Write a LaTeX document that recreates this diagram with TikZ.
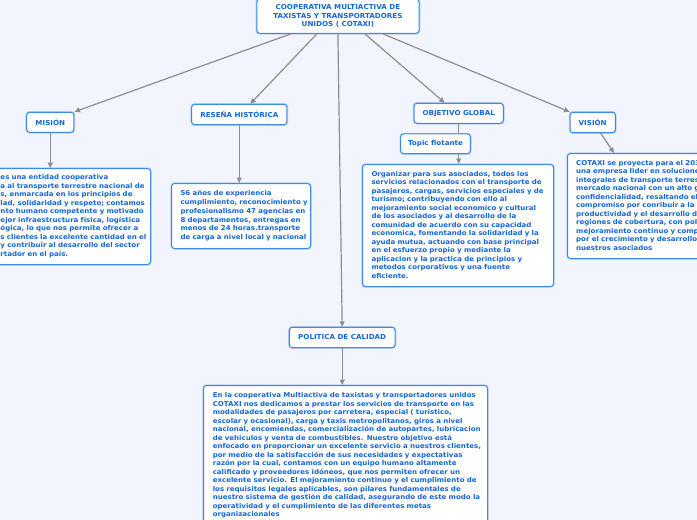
\documentclass[tikz,border=0pt]{standalone}
\usepackage{fontspec}
\setmainfont{DejaVu Sans}
\newfontfamily\vfont[FakeStretch=1.05]{DejaVu Sans}
\usetikzlibrary{arrows.meta}
\definecolor{bg}{HTML}{F2F5FD}
\definecolor{bord}{HTML}{3E8BE6}
\definecolor{halo}{HTML}{B3D0F4}
\definecolor{txt}{HTML}{1667D6}
\definecolor{connc}{HTML}{8E8E8E}
\newcommand{\tlines}[1]{\makebox[0pt][l]{\begin{tabular}{@{}l@{}}#1\end{tabular}}}
\hfuzz=100pt
\begin{document}
\begin{tikzpicture}[x=1pt,y=-1pt,
 box/.style={draw=bord, line width=1pt, fill=white, rounded corners=3pt,
   preaction={draw=halo, line width=2.4pt}, text=txt},
 topicbox/.style={box, inner sep=0pt, align=center, font=\vfont\fontsize{6.8}{8.7}\selectfont\bfseries},
 textbox/.style={box, anchor=north west, inner ysep=0pt, align=left, font=\vfont\fontsize{6.7}{8.5}\selectfont\bfseries},
 conn/.style={draw=connc, line width=1.2pt, -{Triangle[length=5.5pt,width=5pt]}},
 link/.style={draw=connc, line width=1.2pt}
]
\useasboundingbox (0,0) rectangle (697,520);
\fill[bg] (0,0) rectangle (697,520);
\clip (0,0) rectangle (697,520);

% topics
\node[topicbox, minimum width=162.3pt, minimum height=34.3pt] (main) at (337.9,16.2)
  {COOPERATIVA MULTIACTIVA DE\\TAXISTAS Y TRANSPORTADORES\\UNIDOS ( COTAXI)};
\node[topicbox, minimum width=47.3pt, minimum height=20pt] (mision) at (50.3,122.3) {MISIÓN};
\node[topicbox, minimum width=95.3pt, minimum height=20.4pt] (resena) at (239.3,114.5) {RESEÑA HISTÓRICA};
\node[topicbox, minimum width=89.3pt, minimum height=20pt] (objetivo) at (458.7,113.3) {OBJETIVO GLOBAL};
\node[topicbox, minimum width=45.3pt, minimum height=20.4pt] (vision) at (592.7,122.5) {VISIÓN};
\node[topicbox, minimum width=69.6pt, minimum height=19.7pt] (topic) at (435.5,143.8) {Topic flotante};
\node[topicbox, minimum width=105.7pt, minimum height=20.4pt] (politica) at (342.2,337.5) {POLITICA DE CALIDAD};

% text boxes
\node[textbox, inner xsep=9pt, text width=141pt, minimum height=96pt] (misiontxt) at (-9,168)
  {\tlines{es una entidad cooperativa\\
   a al transporte terrestre nacional de\\
   s, enmarcada en los principios de\\
   lad, solidaridad y respeto; contamos\\
   nto humano competente y motivado\\
   ejor infraestructura física, logística\\
   ógica, lo que nos permite ofrecer a\\
   s clientes la excelente cantidad en el\\
   y contribuir al desarrollo del sector\\
   rtador en el país.}};
\node[textbox, inner xsep=9pt, text width=121pt, minimum height=65pt,
  font=\vfont\fontsize{6.7}{8.8}\selectfont\bfseries] (resenatxt) at (171,183)
  {\tlines{56 años de experiencia\\
   cumplimiento, reconocimiento y\\
   profesionalismo 47 agencias en\\
   8 departamentos, entregas en\\
   menos de 24 horas.transporte\\
   de carga a nivel local y nacional}};
\node[textbox, inner xsep=9pt, text width=173pt, minimum height=122pt] (objtxt) at (362,164)
  {\tlines{Organizar para sus asociados, todos los\\
   servicios relacionados con el transporte de\\
   pasajeros, cargas, servicios especiales y de\\
   turismo; contribuyendo con ello al\\
   mejoramiento social economico y cultural\\
   de los asociados y al desarrollo de la\\
   comunidad de acuerdo con su capacidad\\
   economica, fomentando la solidaridad y la\\
   ayuda mutua, actuando con base principal\\
   en el esfuerzo propio y mediante la\\
   aplicacion y la practica de principios y\\
   metodos corporativos y una fuente\\
   eficiente.}};
\node[textbox, inner xsep=8.7pt, text width=155pt, minimum height=105pt] (visiontxt) at (567,153)
  {\tlines{COTAXI se proyecta para el 203\\
   una empresa lider en solucione\\
   integrales de transporte terrest\\
   mercado nacional con un alto g\\
   confidencialidad, resaltando el\\
   compromiso por conribuir a la\\
   productividad y el desarrollo de\\
   regiones de cobertura, con poli\\
   mejoramiento continuo y comp\\
   por el crecimiento y desarrollo\\
   nuestros asociados}};
\node[textbox, inner xsep=9.3pt, text width=265.4pt, minimum height=140pt] (poltxt) at (203,385)
  {\tlines{En la cooperativa Multiactiva de taxistas y transportadores unidos\\
   COTAXI nos dedicamos a prestar los servicios de transporte en las\\
   modalidades de pasajeros por carretera, especial ( turístico,\\
   escolar y ocasional), carga y taxis metropolitanos, giros a nivel\\
   nacional, encomiendas, comercialización de autopartes, lubricacion\\
   de vehiculos y venta de combustibles. Nuestro objetivo está\\
   enfocado en proporcionar un excelente servicio a nuestros clientes,\\
   por medio de la satisfacción de sus necesidades y expectativas\\
   razón por la cual, contamos con un equipo humano altamente\\
   calificado y proveedores idóneos, que nos permiten ofrecer un\\
   excelente servicio. El mejoramiento continuo y el cumplimiento de\\
   los requisitos legales aplicables, son pilares fundamentales de\\
   nuestro sistema de gestión de calidad, asegurando de este modo la\\
   operatividad y el cumplimiento de las diferentes metas\\
   organizacionales}};

% connectors
\draw[conn] ([xshift=-47pt]main.south) -- (mision.north east);
\draw[conn] ([xshift=-21pt]main.south) -- ([xshift=11pt]resena.north);
\draw[conn] (main.south) -- (politica.north);
\draw[conn] ([xshift=27pt]main.south) -- ([xshift=-14pt]objetivo.north);
\draw[conn] ([xshift=45pt]main.south) -- (vision.north west);
\draw[conn] (mision.south) -- (mision.south |- misiontxt.north);
\draw[conn] (resena.south) -- (resena.south |- resenatxt.north);
\draw[link] (objetivo.south) -- (objetivo.south |- topic.north);
\draw[conn] (objetivo.south |- topic.south) -- (objetivo.south |- objtxt.north);
\draw[conn] ([xshift=8pt]vision.south) -- ([xshift=47pt]visiontxt.north west);
\draw[conn] (politica.south) -- (politica.south |- poltxt.north);
\end{tikzpicture}
\end{document}
